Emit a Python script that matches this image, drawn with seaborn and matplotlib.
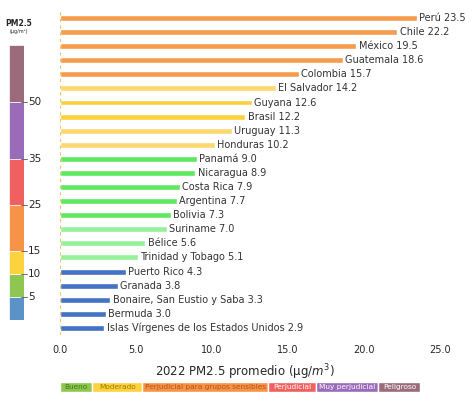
import numpy as np
import pandas as pd
import matplotlib
matplotlib.use("Agg")
from matplotlib import pyplot as plt
import seaborn as sns

paises = ["Perú", "Chile", "México", "Guatemala", "Colombia", "El Salvador", "Guyana",
          "Brasil", "Uruguay", "Honduras", "Panamá", "Nicaragua", "Costa Rica", "Argentina",
          "Bolivia", "Suriname", "Bélice", "Trinidad y Tobago", "Puerto Rico", "Granada",
          "Bonaire, San Eustio y Saba", "Bermuda", "Islas Vírgenes de los Estados Unidos"]
valores = [23.5, 22.2, 19.5, 18.6, 15.7, 14.2, 12.6, 12.2, 11.3, 10.2, 9.0, 8.9, 7.9, 7.7,
           7.3, 7.0, 5.6, 5.1, 4.3, 3.8, 3.3, 3.0, 2.9]
colores = (["#f79b4c"] * 5 + ["#fcd86e", "#fbd03f", "#fbd03f", "#fcd86e", "#fcd86e"]
           + ["#5fe862"] * 5 + ["#95f29a"] * 3 + ["#4472c4"] * 5)

escala_cortes = [5, 10, 15, 25, 35, 50]
escala_colores = ["#5b93c9", "#8fc652", "#fcd23f", "#f79347", "#f0605e", "#9a6bb8", "#9b6b7c"]
cat_nombres = ["Bueno", "Moderado", "Perjudicial para grupos sensibles", "Perjudicial",
               "Muy perjudicial", "Peligroso"]
cat_fondo = ["#8fc652", "#fcd23f", "#f79347", "#f0605e", "#9a6bb8", "#9b6b7c"]
cat_texto = ["#3f7a1a", "#a07a00", "#b5520f", "#ffffff", "#ffffff", "#ffffff"]

df = pd.DataFrame({"pais": paises, "valor": valores})

sns.set_style("white")
plt.rcParams["font.family"] = ["DejaVu Sans"]
fig = plt.figure(figsize=(4.74, 4.05), dpi=100)
ax = fig.add_axes([0.127, 0.173, 0.801, 0.80])
sns.barplot(data=df, x="valor", y="pais", hue="pais", palette=colores, legend=False,
            width=0.42, saturation=1, ax=ax)
for i, (p, v) in enumerate(zip(paises, valores)):
    ax.text(v + 0.15, i, f"{p} {v:.1f}", va="center", ha="left",
            fontsize=7, color="#333333")
ax.set_xlim(0, 25)
ax.set_xticks([0, 5, 10, 15, 20, 25])
ax.set_xticklabels([f"{t:.1f}" for t in [0, 5, 10, 15, 20, 25]], fontsize=7)
ax.set_yticks([])
ax.set_ylabel("")
ax.set_xlabel("")
sns.despine(ax=ax, left=True, bottom=True)
ax.axvline(0, color="#f5c26b", lw=0.8, ls=(0, (3, 3)))

# escala vertical
cb = fig.add_axes([0.02, 0.21, 0.03, 0.68])
bordes = [0, 1, 2, 3, 5, 7, 9.5, 12]
for k in range(len(escala_colores)):
    cb.bar(0, bordes[k + 1] - bordes[k], bottom=bordes[k], width=1, color=escala_colores[k],
           edgecolor="white", linewidth=0.5)
cb.set_xlim(-0.5, 0.5)
cb.set_ylim(0, 12)
cb.axis("off")
for b, c in zip(bordes[1:7], escala_cortes):
    cb.plot([0.3, 0.7], [b, b], color="#555555", lw=0.6, clip_on=False)
    cb.text(0.8, b, str(c), va="center", fontsize=7.5, clip_on=False)
fig.text(0.04, 0.935, "PM2.5", ha="center", fontsize=5.5, weight="bold")
fig.text(0.04, 0.918, "(μg/m³)", ha="center", fontsize=3.5)

fig.text(0.517, 0.072, "2022 PM2.5 promedio (μg/$m^3$)", ha="center", fontsize=8.5)

lg = fig.add_axes([0.127, 0.032, 0.76, 0.025])
anchos = [32, 50, 126, 48, 62, 42]
x0 = 0
for w, n, f, t in zip(anchos, cat_nombres, cat_fondo, cat_texto):
    lg.barh(0, w, left=x0, height=1, color=f)
    lg.text(x0 + w / 2, 0, n, ha="center", va="center", fontsize=5.3, color=t)
    x0 += w
lg.set_xlim(0, x0)
lg.set_ylim(-0.5, 0.5)
lg.axis("off")

fig.savefig("out.png", dpi=100)
